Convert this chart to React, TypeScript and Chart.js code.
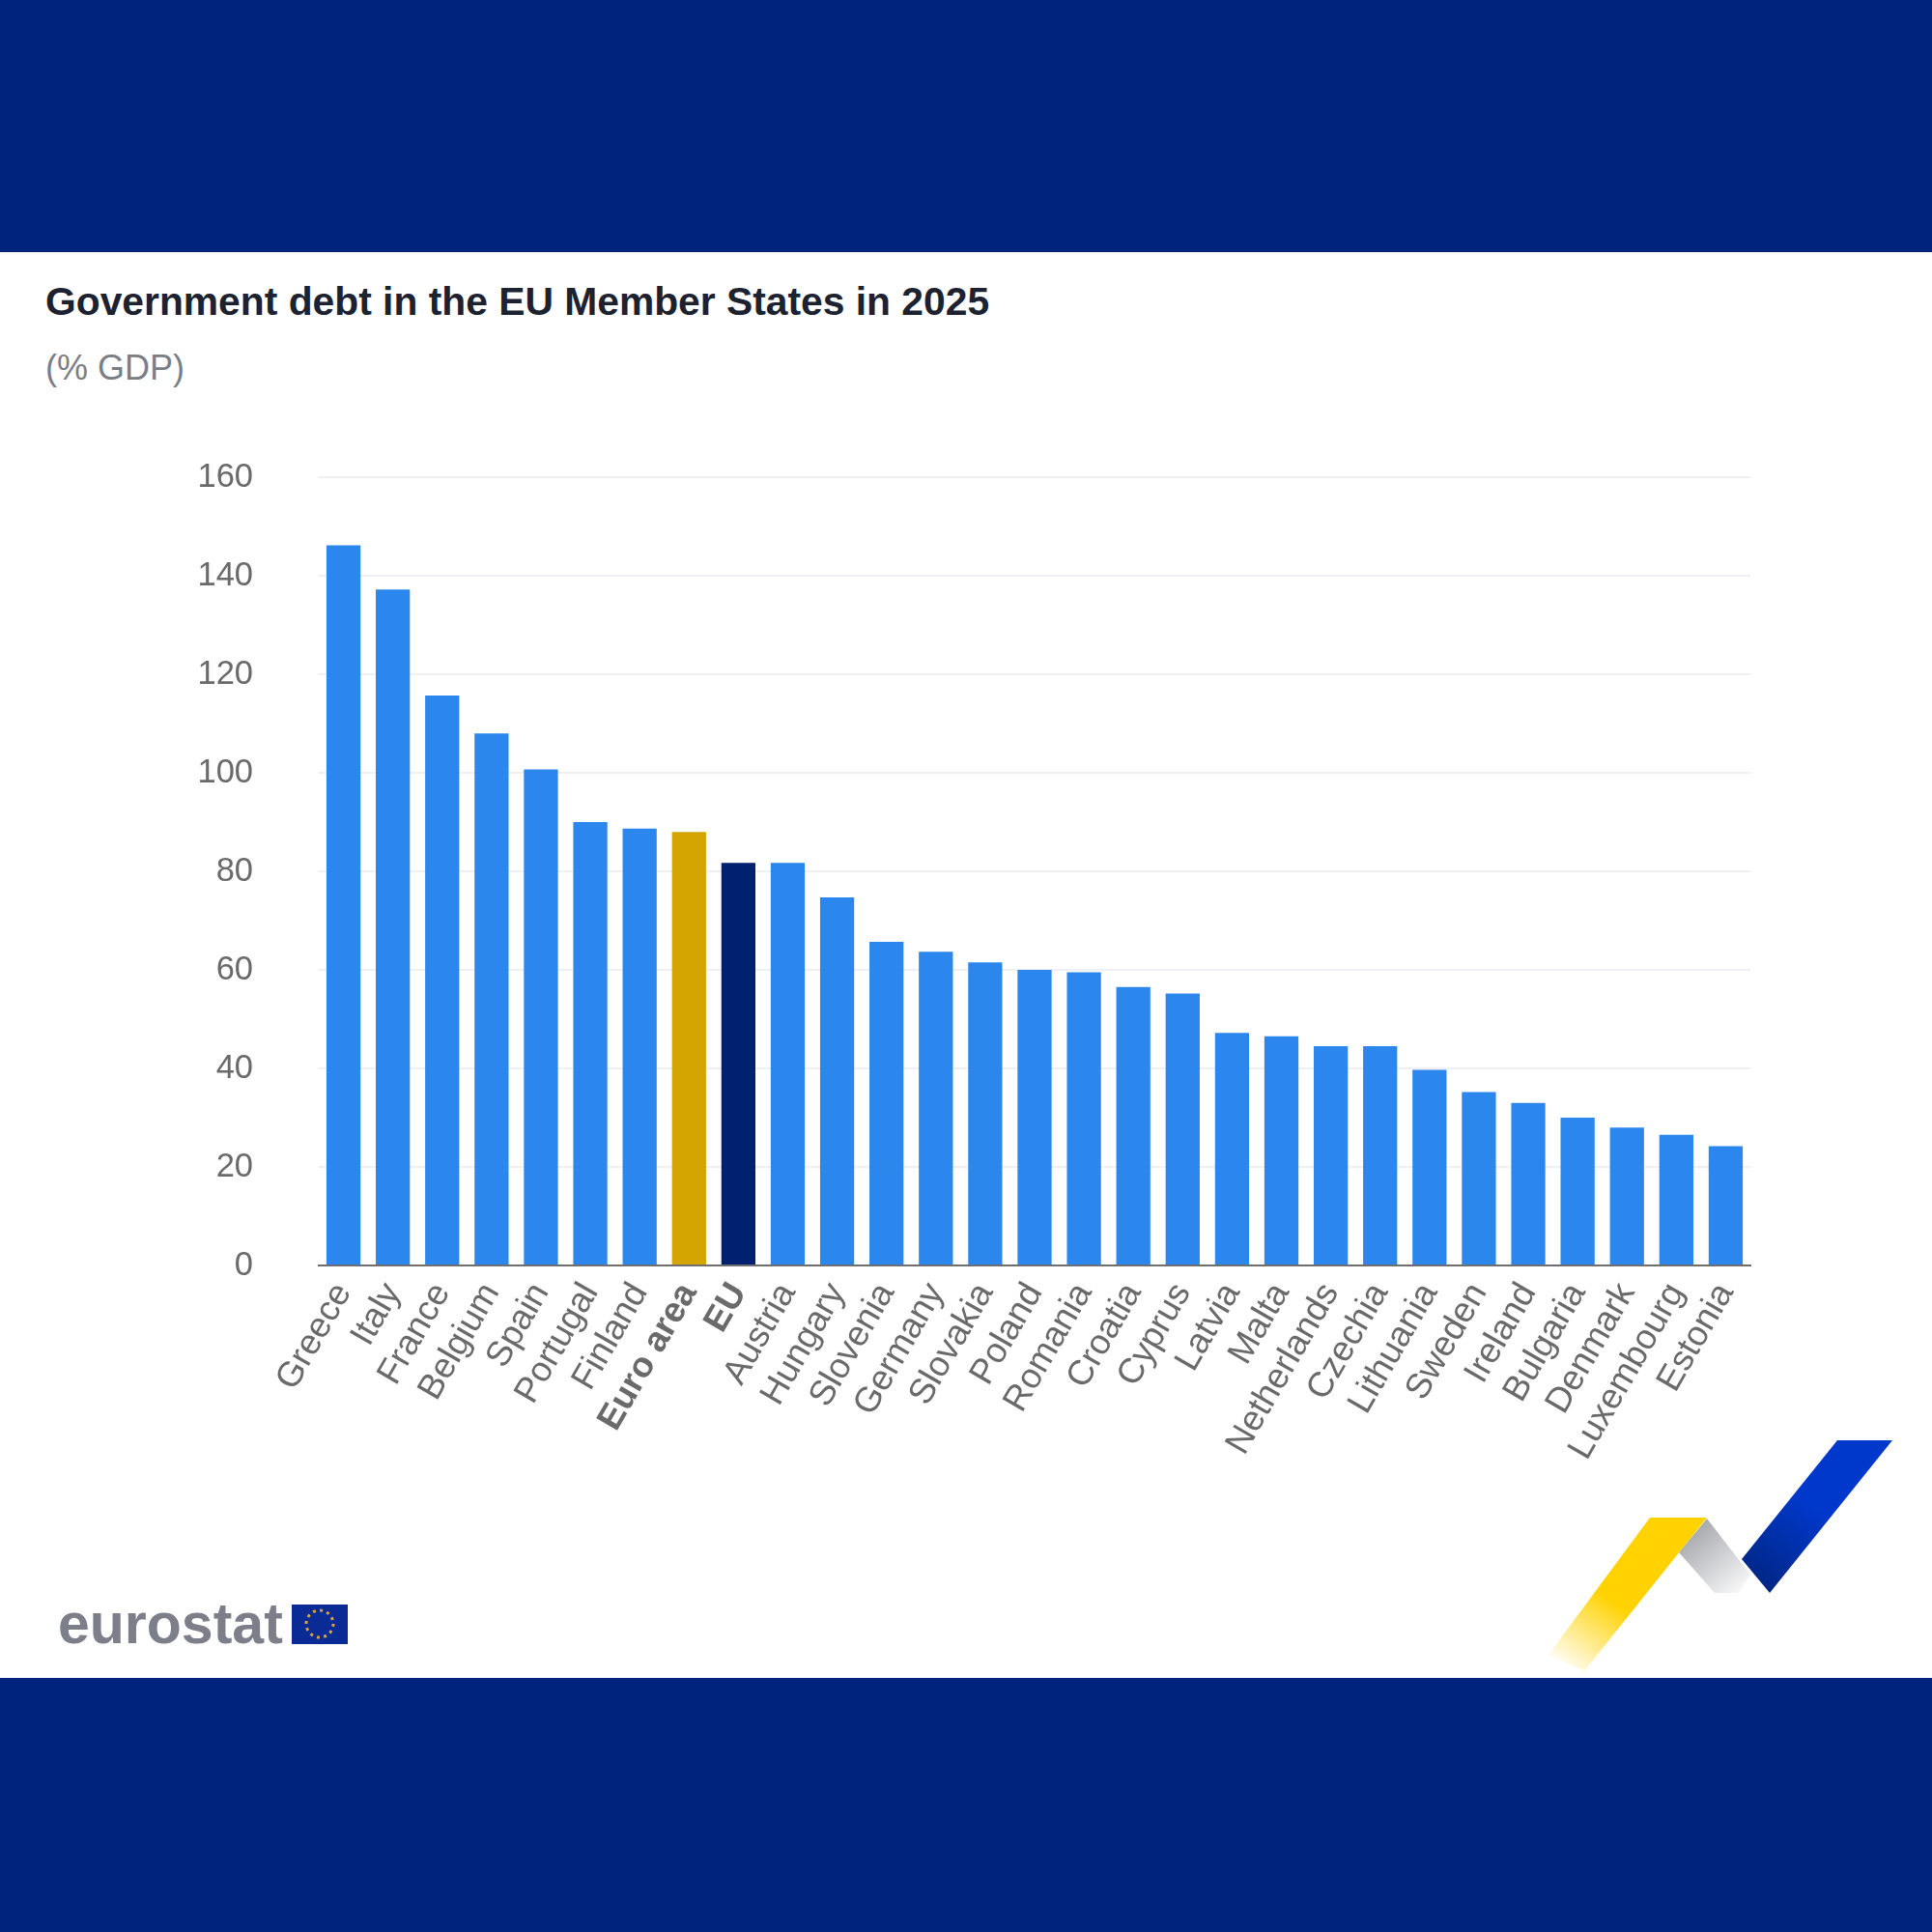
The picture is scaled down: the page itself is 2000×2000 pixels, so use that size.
import { useEffect, useRef } from "react";
import { Chart, registerables } from "chart.js";

Chart.register(...registerables);

const countries = [
  "Greece", "Italy", "France", "Belgium", "Spain", "Portugal", "Finland", "Euro area", "EU", "Austria",
  "Hungary", "Slovenia", "Germany", "Slovakia", "Poland", "Romania", "Croatia", "Cyprus", "Latvia", "Malta",
  "Netherlands", "Czechia", "Lithuania", "Sweden", "Ireland", "Bulgaria", "Denmark", "Luxembourg", "Estonia",
];
const debt = [
  146.2, 137.2, 115.7, 108, 100.7, 90, 88.7, 88, 81.7, 81.7,
  74.7, 65.7, 63.7, 61.5, 60, 59.5, 56.5, 55.2, 47.2, 46.5,
  44.5, 44.5, 39.7, 35.2, 33, 30, 28, 26.5, 24.2,
];
const yTicks = [0, 20, 40, 60, 80, 100, 120, 140, 160];

const NAVY = "#00247d";
const FONT = "'Liberation Sans', Arial, sans-serif";

const barColor = (name: string) => {
  if (name === "Euro area") return "#d4a500";
  if (name === "EU") return "#002070";
  return "#2b86ee";
};
const isAggregate = (i: number) => countries[i] === "Euro area" || countries[i] === "EU";

const Logo = () => (
  <svg width={2000} height={2000} style={{ position: "absolute", left: 0, top: 0 }}>
    <defs>
      <linearGradient id="yellow" gradientUnits="userSpaceOnUse" x1="1700" y1="1620" x2="1620" y2="1730">
        <stop offset="0" stopColor="#ffd200" />
        <stop offset="0.35" stopColor="#ffd200" />
        <stop offset="1" stopColor="#ffd200" stopOpacity="0" />
      </linearGradient>
      <linearGradient id="grey" gradientUnits="userSpaceOnUse" x1="1750" y1="1580" x2="1810" y2="1650">
        <stop offset="0" stopColor="#a3a5aa" />
        <stop offset="1" stopColor="#ffffff" />
      </linearGradient>
      <linearGradient id="blue" gradientUnits="userSpaceOnUse" x1="1880" y1="1560" x2="1815" y2="1650">
        <stop offset="0" stopColor="#0038cc" />
        <stop offset="1" stopColor="#00247d" />
      </linearGradient>
    </defs>
    <polygon points="1902,1491 1959,1491 1832,1649 1803,1614" fill="url(#blue)" />
    <polygon points="1767,1572 1812,1630 1800,1649 1775,1649 1738,1607" fill="url(#grey)" />
    <polygon points="1708,1571 1767,1571 1640,1730 1603,1713" fill="url(#yellow)" />
    <rect x={302} y={1661} width={58} height={41} fill="#0a2a96" />
    <circle cx={331} cy={1681} r={14} fill="none" stroke="#d9a441" strokeWidth={3} strokeDasharray="3 4.3" />
  </svg>
);

export default function App() {
  const canvasRef = useRef<HTMLCanvasElement>(null);

  useEffect(() => {
    if (!canvasRef.current) return;
    const chart = new Chart(canvasRef.current, {
      type: "bar",
      data: {
        labels: countries,
        datasets: [
          {
            label: "Government debt (% GDP)",
            data: debt,
            backgroundColor: countries.map(barColor),
            barPercentage: 0.69,
            categoryPercentage: 1,
          },
        ],
      },
      options: {
        responsive: false,
        animation: false,
        devicePixelRatio: 1,
        layout: { padding: { top: 494, right: 188, left: 0, bottom: 0 } },
        plugins: { legend: { display: false }, tooltip: { enabled: false } },
        scales: {
          x: {
            grid: { display: false },
            border: { color: "#6f6f6f", width: 2 },
            afterFit: (scale) => {
              scale.height = 690;
            },
            ticks: {
              autoSkip: false,
              minRotation: 60,
              maxRotation: 60,
              padding: 3,
              color: "#6a6a6a",
              font: (ctx) => ({
                family: FONT,
                size: 36.5,
                weight: isAggregate(ctx.index) ? "bold" : "normal",
              }),
            },
          },
          y: {
            min: 0,
            max: 160,
            afterFit: (scale) => {
              scale.width = 330;
            },
            afterBuildTicks: (scale) => {
              scale.ticks = yTicks.map((value) => ({ value }));
            },
            grid: { color: "#eef0f4", lineWidth: 2, drawTicks: false },
            border: { display: false },
            ticks: {
              padding: 68,
              color: "#6a6a6a",
              font: { family: FONT, size: 34.5 },
            },
          },
        },
      },
    });
    return () => chart.destroy();
  }, []);

  return (
    <div style={{ position: "absolute", left: 0, top: 0, width: 2000, height: 2000, background: "#fff", overflow: "hidden", fontFamily: FONT }}>
      <div style={{ position: "absolute", left: 0, top: 0, width: 2000, height: 261, background: NAVY }} />
      <div style={{ position: "absolute", left: 0, top: 1737, width: 2000, height: 263, background: NAVY }} />
      <div style={{ position: "absolute", left: 47, top: 289, fontSize: 40.8, fontWeight: 700, color: "#1d2230", whiteSpace: "nowrap" }}>
        Government debt in the EU Member States in 2025
      </div>
      <div style={{ position: "absolute", left: 47, top: 360, fontSize: 36, color: "#7b7e86", whiteSpace: "nowrap" }}>
        (% GDP)
      </div>
      <div style={{ position: "absolute", left: 60, top: 1648, fontSize: 59, lineHeight: "66px", fontWeight: 700, color: "#7c7f8a", whiteSpace: "nowrap" }}>
        eurostat
      </div>
      <Logo />
      <canvas ref={canvasRef} width={2000} height={2000} style={{ position: "absolute", left: 0, top: 0 }} />
    </div>
  );
}
